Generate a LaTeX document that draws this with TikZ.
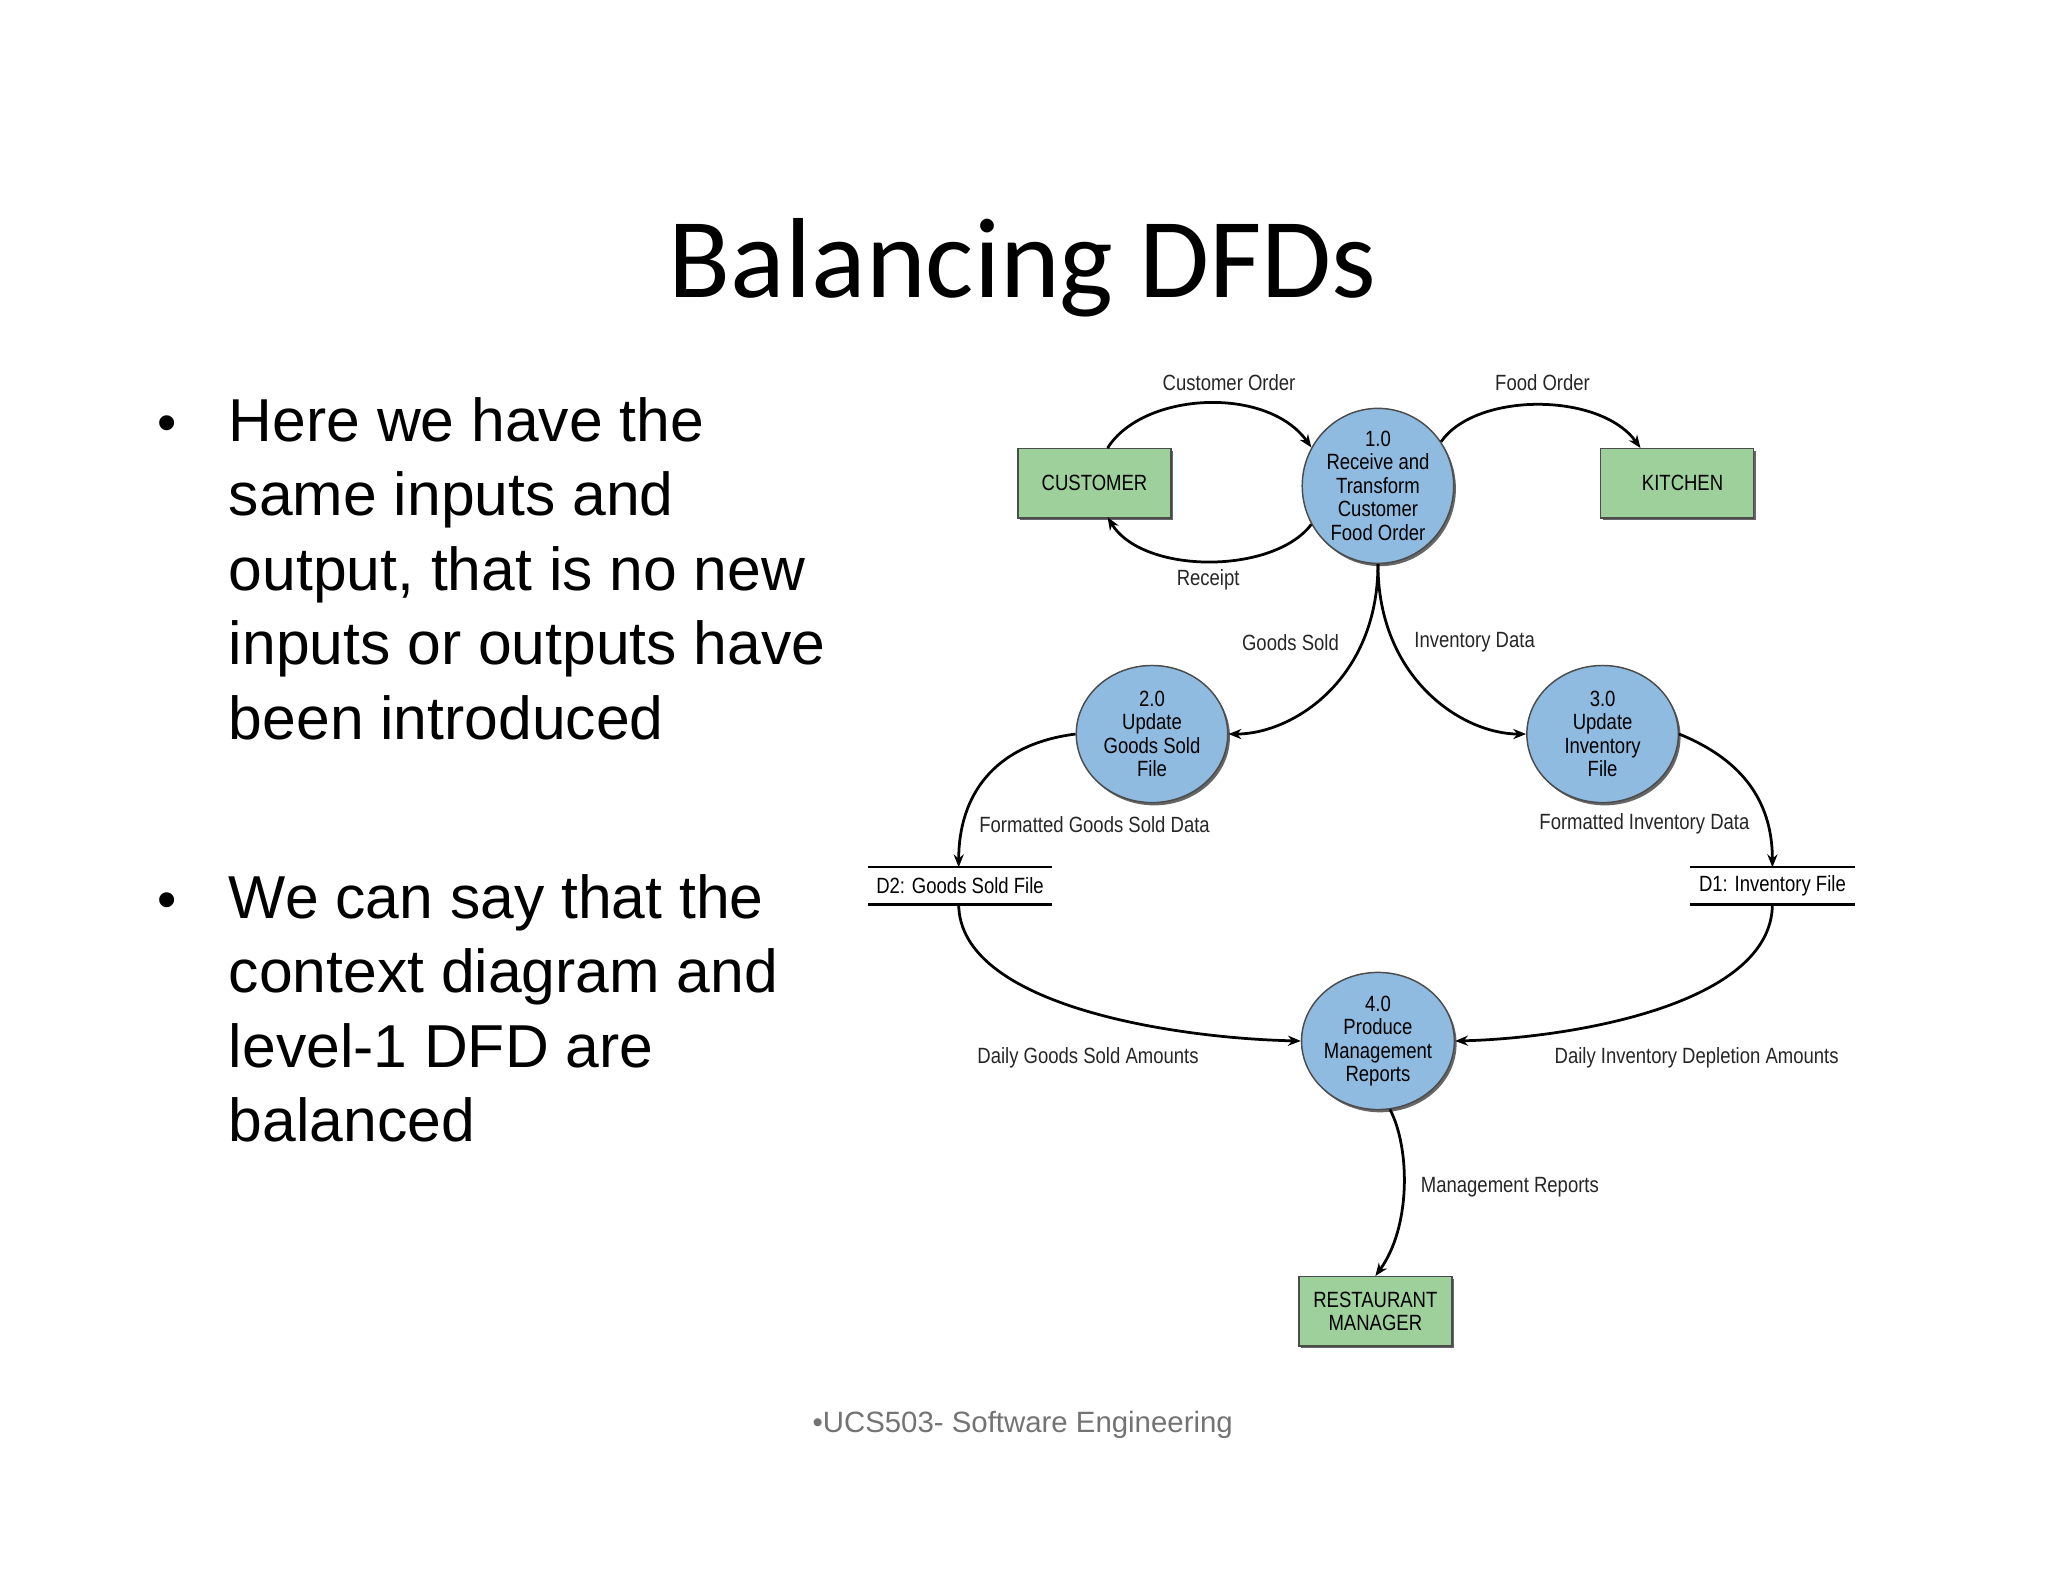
\documentclass[tikz,border=0pt]{standalone}
\usepackage{fontspec}
\setmainfont{Liberation Sans}
\newfontfamily\titlefont{Carlito}
\newfontfamily\dfdfont[FakeStretch=0.84]{Liberation Sans}
\usetikzlibrary{shapes.geometric,arrows.meta,shadows}
\definecolor{boxg}{HTML}{9DD09A}
\definecolor{procb}{HTML}{8FBBE0}
\begin{document}
\begin{tikzpicture}[x=0.025cm,y=-0.025cm,
  lbl/.style={font=\dfdfont\fontsize{12}{13}\selectfont, text=black!85},
  ent/.style={draw=black!70, line width=0.8pt, fill=boxg, minimum width=117*0.025cm, minimum height=53*0.025cm, align=center, font=\dfdfont\fontsize{12}{13}\selectfont, drop shadow={shadow xshift=1.2pt,shadow yshift=-1.2pt,fill=black!60,opacity=1}},
  proc/.style={ellipse, draw=black!70, line width=0.8pt, fill=procb, minimum width=116*0.025cm, minimum height=105*0.025cm, inner sep=0pt, align=center, font=\dfdfont\fontsize{12}{12.8}\selectfont, drop shadow={shadow xshift=1.2pt,shadow yshift=-1.5pt,fill=black!60,opacity=1}},
  flow/.style={line width=1.5pt, -{Stealth[length=7pt,width=5.5pt]}},
  bul/.style={anchor=base west, inner sep=0pt, font=\fontsize{33}{40}\selectfont},
  dot/.style={anchor=base, inner sep=0pt, font=\fontsize{30}{34}\selectfont},
]
\useasboundingbox (0,0) rectangle (1568,1211);
\node[font=\titlefont\fontsize{62}{70}\selectfont] (title) at (783,205) {Balancing DFDs};
% bullets
\node[dot] (b1) at (128,338) {•};
\node[bul] (t1) at (175,338) {Here we have the};
\node[bul] (t2) at (175,395) {same inputs and};
\node[bul] (t3) at (175,452) {output, that is no new};
\node[bul] (t4) at (175,509) {inputs or outputs have};
\node[bul] (t5) at (175,566) {been introduced};
\node[dot] (b2) at (128,703) {•};
\node[bul] (s1) at (175,703) {We can say that the};
\node[bul] (s2) at (175,760) {context diagram and};
\node[bul] (s3) at (175,817) {level-1 DFD are};
\node[bul] (s4) at (175,874) {balanced};
\node[font=\fontsize{16}{18}\selectfont, text=black!55] (foot) at (783,1091) {•UCS503- Software Engineering};
% entities
\node[ent] (cust) at (838,370) {CUSTOMER};
\node[ent] (kit) at (1284,370) {\hspace*{6pt}KITCHEN};
\node[ent] (mgr) at (1053,1004) {RESTAURANT\\MANAGER};
% processes
\node[proc] (p1) at (1055,372) {1.0\\Receive and\\Transform\\Customer\\Food Order};
\node[proc] (p2) at (882,562) {2.0\\Update\\Goods Sold\\File};
\node[proc] (p3) at (1227,562) {3.0\\Update\\Inventory\\File};
\node[proc] (p4) at (1055,797) {4.0\\Produce\\Management\\Reports};
% data stores
\node[font=\dfdfont\fontsize{12}{13}\selectfont, minimum width=140*0.025cm, minimum height=28*0.025cm] (d2) at (735,678) {D2: Goods Sold File};
\draw[line width=1.5pt] (d2.north west) -- (d2.north east) (d2.south west) -- (d2.south east);
\node[font=\dfdfont\fontsize{12}{13}\selectfont, minimum width=126*0.025cm, minimum height=28*0.025cm] (d1) at (1357,678) {D1: Inventory File};
\draw[line width=1.5pt] (d1.north west) -- (d1.north east) (d1.south west) -- (d1.south east);
% flows
\coordinate (c1) at (848,343);
\draw[flow] (c1) .. controls (875,300) and (970,295) .. (p1.150);
\draw[flow] (p1.210) .. controls (975,440) and (875,440) .. (848,396);
\draw[flow] (p1.35) .. controls (1130,300) and (1225,300) .. (1256,343);
\draw[flow] (p1.south) .. controls (1055,520) and (990,562) .. (p2.east);
\draw[flow] (p1.south) .. controls (1055,520) and (1120,562) .. (p3.west);
\draw[flow] (p2.180) .. controls (760,570) and (734,610) .. (734,664);
\draw[flow] (p3.0) .. controls (1330,580) and (1357,610) .. (1357,664);
\draw[flow] (734,692) .. controls (734,770) and (900,795) .. (p4.west);
\draw[flow] (1357,692) .. controls (1357,770) and (1200,795) .. (p4.east);
\draw[flow] (p4.-80) .. controls (1080,880) and (1080,940) .. (mgr.north);
% labels
\node[lbl] (l1) at (941,293) {Customer Order};
\node[lbl] (l2) at (1181,293) {Food Order};
\node[lbl] (l3) at (925,444) {Receipt};
\node[lbl] (l4) at (988,492) {Goods Sold};
\node[lbl] (l5) at (1129,492) {Inventory Data};
\node[lbl] (l6) at (838,631) {Formatted Goods Sold Data};
\node[lbl] (l7) at (1259,631) {Formatted Inventory Data};
\node[lbl] (l8) at (833,810) {Daily Goods Sold Amounts};
\node[lbl] (l9) at (1299,810) {Daily Inventory Depletion Amounts};
\node[lbl] (l10) at (1156,909) {Management Reports};
\end{tikzpicture}
\end{document}
